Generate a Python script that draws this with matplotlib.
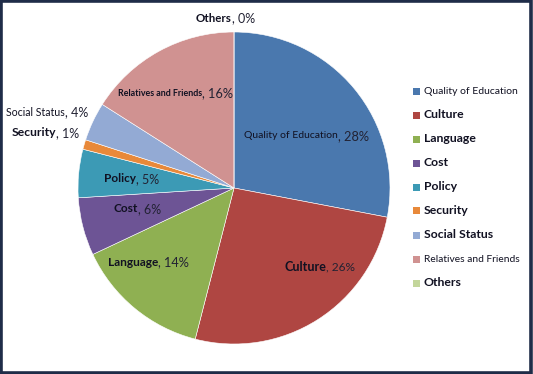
import matplotlib
matplotlib.use("Agg")
import matplotlib.pyplot as plt
from matplotlib.patches import Rectangle

categories = ["Quality of Education", "Culture", "Language", "Cost", "Policy",
              "Security", "Social Status", "Relatives and Friends", "Others"]
values = [28, 26, 14, 6, 5, 1, 4, 16, 0]
colors = ["#4A78AE", "#AF4642", "#8FB052", "#6D5495", "#3C9AB5",
          "#E8893A", "#93AAD4", "#D09291", "#C3D69B"]

# label styling (name weight, name size, pct size)
name_bold = [False, True, True, True, True, True, False, True, True]
name_size = [7.5, 9.0, 8.6, 8.6, 8.5, 8.7, 7.6, 6.4, 8.3]
pct_size = [9.2, 8.6, 9.2, 9.0, 9.0, 9.0, 9.0, 9.2, 9.0]
# label anchor (split point between name and pct), in pixels from top-left
label_pos = [(338, 136), (326, 267), (158, 262), (138, 209), (136, 179),
             (56, 133), (65, 112), (202, 93), (232, 18)]
legend_bold = [False, True, True, True, True, True, True, False, True]
legend_size = [7.5, 8.8, 8.8, 8.8, 8.8, 8.8, 8.8, 7.4, 8.8]

W, H = 533, 374
fig = plt.figure(figsize=(W / 100, H / 100), dpi=100)
fig.patch.set_facecolor("white")

cx, cy, R = 234, 188, 156
ax = fig.add_axes([(cx - R) / W, 1 - (cy + R) / H, 2 * R / W, 2 * R / H])
ax.pie(values, colors=colors, startangle=90, counterclock=False,
       wedgeprops=dict(edgecolor="white", linewidth=0.4), radius=1)
ax.set_xlim(-1, 1)
ax.set_ylim(-1, 1)
ax.set_aspect("equal")
ax.axis("off")

font = "Lato"
for cat, v, b, ns, ps, (px, py) in zip(categories, values, name_bold, name_size,
                                       pct_size, label_pos):
    fig.text(px / W, 1 - py / H, cat, ha="right", va="center", fontsize=ns,
             fontweight="bold" if b else "normal", family=font, color="#111122")
    fig.text(px / W, 1 - py / H, f", {v}%", ha="left", va="center", fontsize=ps,
             family=font, color="#222233")

# legend
leg_x, leg_y0, leg_dy = 413, 91, 24.0
for i, (cat, col) in enumerate(zip(categories, colors)):
    y = leg_y0 + i * leg_dy
    fig.patches.append(Rectangle((leg_x / W, 1 - (y + 3.5) / H), 7 / W, 7 / H,
                                 transform=fig.transFigure, facecolor=col,
                                 edgecolor="none"))
    fig.text((leg_x + 11) / W, 1 - y / H, cat, ha="left", va="center",
             fontsize=legend_size[i], fontweight="bold" if legend_bold[i] else "normal",
             family=font, color="#111122")

# frame
fig.patches.append(Rectangle((0.002, 0.003), 0.994, 0.993, transform=fig.transFigure,
                             facecolor="none", edgecolor="#1F2C48", linewidth=2.6))

fig.savefig("out.png", dpi=100)
